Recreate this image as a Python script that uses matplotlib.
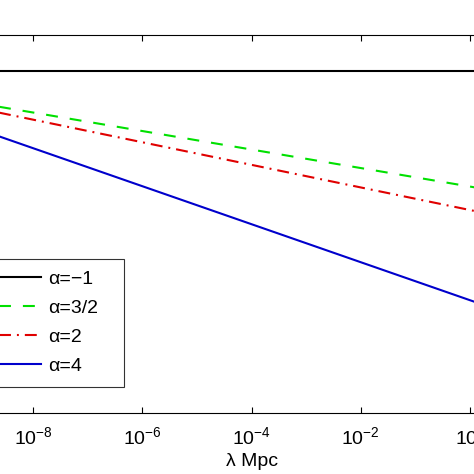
import numpy as np
import matplotlib
matplotlib.use("Agg")
import matplotlib.pyplot as plt
from matplotlib.ticker import LogLocator, NullLocator, LogFormatterSciNotation

plt.rcParams['font.family'] = ['Liberation Sans', 'DejaVu Sans']
plt.rcParams['mathtext.fontset'] = 'custom'
plt.rcParams['mathtext.rm'] = 'Liberation Sans'
plt.rcParams['mathtext.it'] = 'Liberation Sans:italic'
plt.rcParams['mathtext.bf'] = 'Liberation Sans:bold'
plt.rcParams['lines.scale_dashes'] = False

# Data (arbitrary y units, straight lines on log-x axis: endpoints)
lam = [1e-9, 1e1]
y_m1 = [0.905, 0.905]      # alpha = -1
y_32 = [0.8195, 0.5745]    # alpha = 3/2
y_2 = [0.806, 0.507]       # alpha = 2
y_4 = [0.751, 0.248]       # alpha = 4
labels = ['α=−1', 'α=3/2', 'α=2', 'α=4']
xlabel = 'λ Mpc'

FS = 14
fig = plt.figure(figsize=(4.74, 4.74), dpi=100)
W = 474.0
ax = fig.add_axes([-21.7 / W, 61.0 / W, 546.4 / W, 378.0 / W])

lw = 1.5
ax.plot(lam, y_m1, color='black', lw=lw, label=labels[0])
ax.plot(lam, y_32, color='#00e000', lw=lw, dashes=(8.6, 8.6), label=labels[1])
ax.plot(lam, y_2, color='#e00000', lw=lw, dashes=(8.6, 4.3, 1.4, 4.3), label=labels[2])
ax.plot(lam, y_4, color='#0000cc', lw=lw, label=labels[3])

ax.set_xscale('log')
ax.set_xlim(1e-9, 1e1)
ax.set_ylim(0, 1)
ax.xaxis.set_major_locator(LogLocator(base=100.0, numticks=20))
ax.xaxis.set_major_formatter(LogFormatterSciNotation(base=10.0))
ax.xaxis.set_minor_locator(NullLocator())
ax.yaxis.set_minor_locator(NullLocator())
ax.tick_params(axis='both', which='major', direction='in', length=4.5, width=0.8,
               top=True, right=True, labelsize=FS, pad=9.5)
for s in ax.spines.values():
    s.set_linewidth(0.8)
ax.set_xlabel(xlabel, fontsize=FS, labelpad=3.5)

leg = ax.legend(loc='upper left',
                bbox_to_anchor=(-20.0 / W, 1 - 259.0 / W, 144.0 / W, 0.0),
                bbox_transform=fig.transFigure, mode='expand', fontsize=FS,
                frameon=True, fancybox=False, shadow=False,
                handlelength=2.55, handletextpad=0.36,
                labelspacing=0.58, borderpad=0.6, borderaxespad=0)
leg.get_frame().set_edgecolor('black')
leg.get_frame().set_linewidth(0.8)

fig.savefig('out.png', dpi=100)
